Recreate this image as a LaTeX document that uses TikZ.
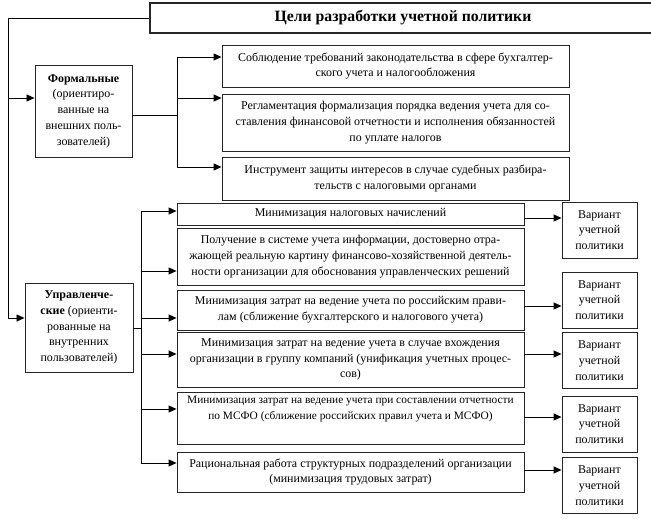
\documentclass[tikz,border=0pt]{standalone}
\usepackage{fontspec}
\setmainfont{Liberation Serif}
\usetikzlibrary{arrows.meta}
\tikzset{
  box/.style={draw=black!85, line width=0.9bp, inner sep=0pt, align=center, font=\fontsize{12}{15.8}\selectfont},
  ttl/.style={draw=black!85, line width=1.2bp, inner sep=0pt, font=\fontsize{15.8}{18}\selectfont\bfseries},
  conn/.style={line width=0.9bp, black},
  arr/.style={conn, -{Triangle[length=8bp,width=7bp]}},
}
\begin{document}
\begin{tikzpicture}[x=1bp,y=-1bp]
\useasboundingbox (0,0) rectangle (651,519);
% title
\node[ttl, minimum width=506bp, minimum height=30bp] (title) at (403,18) {Цели разработки учетной политики};
% left category boxes
\node[box, minimum width=97bp, minimum height=92bp] (formal) at (83.5,111)
  {\textbf{Формальные}\\(ориентиро-\\ванные на\\внешних поль-\\зователей)};
\node[box, minimum width=108bp, minimum height=89bp] (upr) at (79,327.5)
  {\textbf{Управленче-}\\\textbf{ские} (ориенти-\\рованные на\\внутренних\\пользователей)};
% formal goals
\node[box, minimum width=347bp, minimum height=42bp] (b1) at (395.5,66)
  {Соблюдение требований законодательства в сфере бухгалтер-\\ского учета и налогообложения};
\node[box, minimum width=347bp, minimum height=57bp] (b2) at (395.5,122.5)
  {Регламентация формализация порядка ведения учета для со-\\ставления финансовой отчетности и исполнения обязанностей\\по уплате налогов};
\node[box, minimum width=347bp, minimum height=43bp] (b3) at (395.5,178.5)
  {Инструмент защиты интересов в случае судебных разбира-\\тельств с налоговыми органами};
% managerial goals
\node[box, minimum width=347bp, minimum height=22bp] (m1) at (350.5,214)
  {Минимизация налоговых начислений};
\node[box, minimum width=347bp, minimum height=57bp] (m2) at (350.5,256.5)
  {Получение в системе учета информации, достоверно отра-\\жающей реальную картину финансово-хозяйственной деятель-\\ности организации для обоснования управленческих решений};
\node[box, minimum width=347bp, minimum height=40bp] (m3) at (350.5,310)
  {Минимизация затрат на ведение учета по российским прави-\\лам (сближение бухгалтерского и налогового учета)};
\node[box, minimum width=347bp, minimum height=55bp] (m4) at (350.5,359.5)
  {Минимизация затрат на ведение учета в случае вхождения\\организации в группу компаний (унификация учетных процес-\\сов)};
\node[box, minimum width=347bp, minimum height=52bp, font=\fontsize{11.4}{15.8}\selectfont] (m5) at (350.5,418)
  {Минимизация затрат на ведение учета при составлении отчетности\\по МСФО (сближение российских правил учета и МСФО)\\\strut};
\node[box, minimum width=347bp, minimum height=40bp] (m6) at (350.5,472)
  {Рациональная работа структурных подразделений организации\\(минимизация трудовых затрат)};
% variants
\foreach \n/\y in {r1/230, r2/300, r3/360.5, r4/424, r5/485.5}
  \node[box, minimum width=75bp, minimum height=56bp] (\n) at (599.5,\y) {Вариант\\учетной\\политики};
% left spine
\coordinate (L) at (8,318);
\coordinate (Lf) at (8,98);
\draw[arr] (title.west) -| (L) -- (L -| upr.west);
\draw[arr] (Lf) -- (Lf -| formal.west);
% formal branch
\coordinate (fj) at (177,115);
\coordinate (f1) at (177,57);
\coordinate (f2) at (177,98);
\coordinate (f3) at (177,167);
\draw[conn] (fj -| formal.east) -- (fj);
\draw[conn] (f1) -- (f3);
\draw[arr] (f1) -- (f1 -| b1.west);
\draw[arr] (f2) -- (f2 -| b2.west);
\draw[arr] (f3) -- (f3 -| b3.west);
% managerial branch
\coordinate (uj) at (141,328);
\coordinate (u1) at (141,211);
\coordinate (u2) at (141,271);
\coordinate (u3) at (141,318);
\coordinate (u4) at (141,354);
\coordinate (u5) at (141,409);
\coordinate (u6) at (141,463);
\draw[conn] (uj -| upr.east) -- (uj);
\draw[conn] (u1) -- (u6);
\draw[arr] (u1) -- (u1 -| m1.west);
\draw[arr] (u2) -- (u2 -| m2.west);
\draw[arr] (u3) -- (u3 -| m3.west);
\draw[arr] (u4) -- (u4 -| m4.west);
\draw[arr] (u5) -- (u5 -| m5.west);
\draw[arr] (u6) -- (u6 -| m6.west);
% to variants
\coordinate (v1) at (524,218);
\coordinate (v2) at (524,306);
\coordinate (v3) at (524,354);
\coordinate (v4) at (524,417);
\coordinate (v5) at (524,470);
\draw[arr] (v1 -| m1.east) -- (v1 -| r1.west);
\draw[arr] (v2 -| m3.east) -- (v2 -| r2.west);
\draw[arr] (v3 -| m4.east) -- (v3 -| r3.west);
\draw[arr] (v4 -| m5.east) -- (v4 -| r4.west);
\draw[arr] (v5 -| m6.east) -- (v5 -| r5.west);
\end{tikzpicture}
\end{document}
